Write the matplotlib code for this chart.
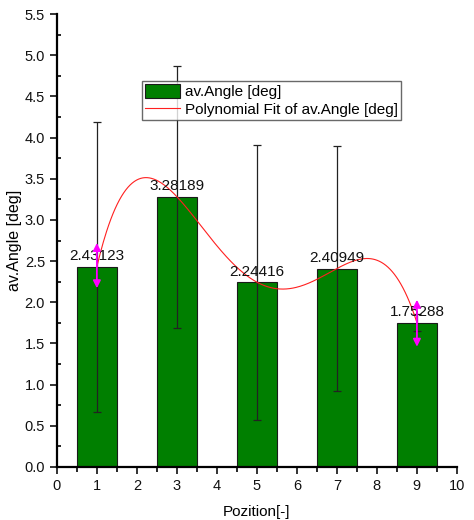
import numpy as np
import matplotlib
matplotlib.use("Agg")
import matplotlib.pyplot as plt
from matplotlib.ticker import MultipleLocator, FormatStrFormatter

plt.rcParams['font.family'] = ['Liberation Sans', 'DejaVu Sans']

positions = [1, 3, 5, 7, 9]
values = [2.43123, 3.28189, 2.24416, 2.40949, 1.75288]
errors = [1.76, 1.59, 1.67, 1.49, 0.10]
labels = ["2.43123", "3.28189", "2.24416", "2.40949", "1.75288"]
arrow_points = [1, 9]
arrow_up = [2.72, 2.03]
arrow_down = [2.17, 1.46]

fig = plt.figure(figsize=(4.74, 5.2), dpi=100)
ax = fig.add_axes([0.120, 0.102, 0.844, 0.871])

bars = ax.bar(positions, values, width=1.0, color='#007F00', edgecolor='#1a1a1a', linewidth=0.8,
              label='av.Angle [deg]', zorder=2)
ax.errorbar(positions, values, yerr=errors, fmt='none', ecolor='#222222', elinewidth=0.9,
            capsize=3, capthick=0.9, zorder=3)

coef = np.polyfit(positions, values, 4)
xs = np.linspace(1, 9, 300)
fit_line, = ax.plot(xs, np.polyval(coef, xs), color='#FF2020', lw=0.8, zorder=4,
                    label='Polynomial Fit of av.Angle [deg]')

for xp, v, lab in zip(positions, values, labels):
    ax.text(xp, v + 0.04, lab, ha='center', va='bottom', fontsize=11, color='#111111', zorder=5)

for xp, up, dn in zip(arrow_points, arrow_up, arrow_down):
    mid = np.polyval(coef, xp)
    for tip in (up, dn):
        ax.annotate('', xy=(xp, tip), xytext=(xp, mid),
                    arrowprops=dict(arrowstyle='-|>', color='#FF00FF', lw=1.3,
                                    mutation_scale=11, shrinkA=0, shrinkB=0), zorder=6)

ax.set_xlim(0, 10)
ax.set_ylim(0, 5.5)
ax.xaxis.set_major_locator(MultipleLocator(1))
ax.xaxis.set_minor_locator(MultipleLocator(0.5))
ax.yaxis.set_major_locator(MultipleLocator(0.5))
ax.yaxis.set_minor_locator(MultipleLocator(0.25))
ax.yaxis.set_major_formatter(FormatStrFormatter('%.1f'))
ax.tick_params(axis='both', which='major', direction='out', length=5, width=1.2, labelsize=10.5,
               colors='#111111')
ax.tick_params(axis='x', which='minor', direction='out', length=3.5, width=1.2)
ax.tick_params(axis='y', which='minor', direction='in', length=3, width=1.2)
for s in ['top', 'right']:
    ax.spines[s].set_visible(False)
for s in ['left', 'bottom']:
    ax.spines[s].set_linewidth(1.6)

ax.set_xlabel('Pozition[-]', fontsize=11, labelpad=9)
ax.set_ylabel('av.Angle [deg]', fontsize=11.5, labelpad=2)

leg = ax.legend([bars, fit_line], ['av.Angle [deg]', 'Polynomial Fit of av.Angle [deg]'],
                loc='upper left', bbox_to_anchor=(0.213, 0.852), fontsize=11, frameon=True,
                fancybox=False, edgecolor='#444444', borderpad=0.2, handlelength=2.3,
                handleheight=1.0, labelspacing=0.15, borderaxespad=0, handletextpad=0.3)
leg.get_frame().set_linewidth(1.0)

fig.savefig('out.png', dpi=100)
